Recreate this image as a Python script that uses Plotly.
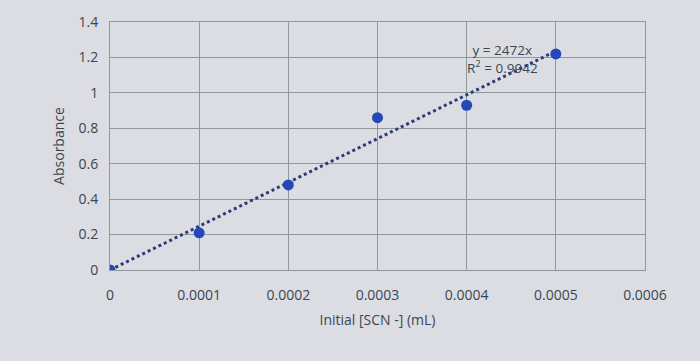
import plotly.graph_objects as go

conc = [0, 0.0001, 0.0002, 0.0003, 0.0004, 0.0005]
absorbance = [0, 0.21, 0.48, 0.86, 0.93, 1.22]
slope = 2472
r2 = 0.9942
fit_x = [0, 0.0005]
fit_y = [slope * v for v in fit_x]

x_ticks = [0, 0.0001, 0.0002, 0.0003, 0.0004, 0.0005, 0.0006]
x_labels = ["0", "0.0001", "0.0002", "0.0003", "0.0004", "0.0005", "0.0006"]
y_ticks = [0, 0.2, 0.4, 0.6, 0.8, 1, 1.2, 1.4]
y_labels = ["0", "0.2", "0.4", "0.6", "0.8", "1", "1.2", "1.4"]

txt = "#3b4650"
grid = "#8c9a9c"

fig = go.Figure()
fig.add_trace(go.Scatter(x=fit_x, y=fit_y, mode="lines",
                         line=dict(color="#2e3a7a", width=3, dash="dot"),
                         hoverinfo="skip", showlegend=False))
fig.add_trace(go.Scatter(x=conc, y=absorbance, mode="markers",
                         marker=dict(color="#2448b8", size=11),
                         showlegend=False))

fig.add_annotation(x=0.00044, y=1.19, xref="x", yref="y",
                   text=f"y = {slope}x<br>R<sup>2</sup> = {r2}",
                   showarrow=False, font=dict(size=13.5, color=txt),
                   align="center", yanchor="middle")

fig.update_layout(
    width=700, height=361,
    margin=dict(l=110, r=55, t=20, b=91),
    paper_bgcolor="#dcdde3",
    plot_bgcolor="#dcdde3",
    font=dict(family="Open Sans, Liberation Sans, sans-serif", size=14, color=txt),
    xaxis=dict(range=[0, 0.0006], tickvals=x_ticks, ticktext=x_labels,
               showgrid=True, gridcolor=grid, gridwidth=1,
               showline=True, linecolor=grid, mirror=True,
               zeroline=False, ticks="", ticklabelstandoff=12,
               title=dict(text="Initial [SCN -] (mL)", standoff=12,
                          font=dict(size=14, color=txt))),
    yaxis=dict(range=[0, 1.4], tickvals=y_ticks, ticktext=y_labels,
               showgrid=True, gridcolor=grid, gridwidth=1,
               showline=True, linecolor=grid, mirror=True,
               zeroline=False, ticks="", ticklabelstandoff=8,
               title=dict(text="Absorbance", standoff=10,
                          font=dict(size=14, color=txt))),
)

fig.write_html("out.html")
